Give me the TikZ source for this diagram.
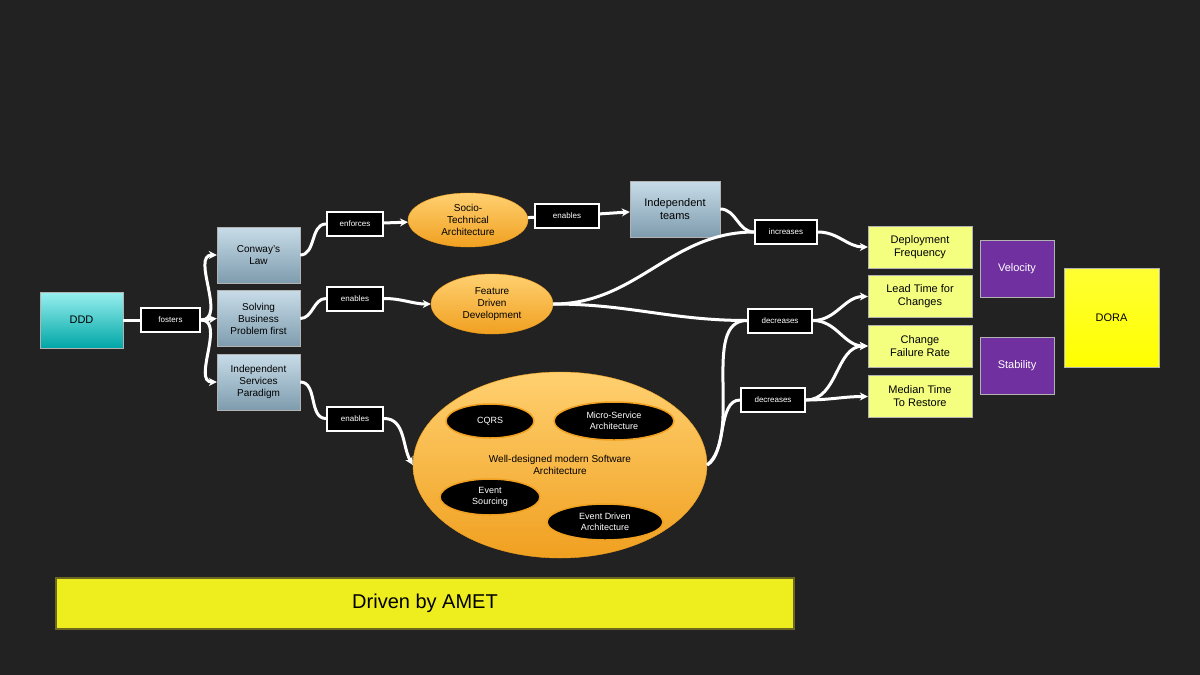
\documentclass[tikz,border=0pt]{standalone}
\usepackage{fontspec}
\setmainfont{Liberation Sans}
\usetikzlibrary{arrows.meta,shapes.geometric,shadings}
\definecolor{bg}{HTML}{222222}
\definecolor{stT}{HTML}{C8DCE8}
\definecolor{stB}{HTML}{7E9CAE}
\definecolor{orT}{HTML}{FFD070}
\definecolor{orB}{HTML}{F0A020}
\definecolor{yl}{HTML}{F4FF80}
\definecolor{pu}{HTML}{7030A0}
\begin{document}
\begin{tikzpicture}[x=1pt,y=-1pt,
 lbl/.style={draw=white,line width=2pt,fill=black,text=white,font=\fontsize{8}{9}\selectfont,minimum height=24pt,inner sep=1pt},
 blue/.style={draw=gray!60,top color=stT,bottom color=stB,font=\fontsize{10}{12}\selectfont,align=center,minimum width=83pt,minimum height=56pt,inner sep=1pt},
 org/.style={ellipse,draw=orB,top color=orT,bottom color=orB,font=\fontsize{10}{12}\selectfont,align=center,inner sep=0pt},
 blk/.style={ellipse,draw=orB,line width=1.5pt,fill=black,text=white,font=\fontsize{9}{11}\selectfont,align=center,inner sep=0pt},
 yel/.style={draw=gray!60,fill=yl,font=\fontsize{11}{13}\selectfont,align=center,minimum width=104pt,minimum height=42pt,inner sep=1pt},
 pur/.style={draw=gray!60,fill=pu,text=white,font=\fontsize{11}{13}\selectfont,minimum width=74pt,minimum height=57pt},
 con/.style={white,line width=3pt},
 arr/.style={con,-{Stealth[length=8pt,width=8pt]}}]
\fill[bg] (0,0) rectangle (1200,675);
\useasboundingbox (0,0) rectangle (1200,675);
\node[draw=gray!60,top color=teal!30!cyan!40!white,bottom color=teal!70!cyan,minimum width=83pt,minimum height=56pt,font=\fontsize{11}{13}\selectfont] (ddd) at (81.5,320) {DDD};
\node[lbl,minimum width=59pt] (fos) at (170.5,320) {fosters};
\node[blue] (con) at (258.5,255) {Conway's\\Law};
\node[blue] (sol) at (258.5,318.5) {Solving\\Business\\Problem first};
\node[blue] (isp) at (258.5,382) {Independent\\Services\\Paradigm};
\node[lbl,minimum width=56pt] (enf) at (355,224) {enforces};
\node[lbl,minimum width=56pt] (en1) at (355,298.5) {enables};
\node[lbl,minimum width=56pt] (en2) at (355,418.5) {enables};
\node[org,minimum width=120pt,minimum height=54pt] (soc) at (468,220) {Socio-\\Technical\\Architecture};
\node[org,minimum width=122pt,minimum height=60pt] (fdd) at (492,304) {Feature\\Driven\\Development};
\node[lbl,minimum width=64pt] (en3) at (567,216) {enables};
\node[blue,minimum width=90pt,font=\fontsize{11}{13}\selectfont] (it) at (675,209) {Independent\\teams};
\node[lbl,minimum width=62pt] (inc) at (786,232) {increases};
\node[lbl,minimum width=64pt] (dec1) at (780,320.5) {decreases};
\node[lbl,minimum width=64pt] (dec2) at (773,400) {decreases};
\node[org,minimum width=294pt,minimum height=186pt] (wd) at (560,465) {};
\node[font=\fontsize{10}{12}\selectfont,align=center] at (560,465) {Well-designed modern Software\\Architecture};
\node[blk,minimum width=88pt,minimum height=34pt] (cq) at (490,421) {CQRS};
\node[blk,minimum width=120pt,minimum height=38pt] (ms) at (614,421) {Micro-Service\\Architecture};
\node[blk,minimum width=100pt,minimum height=36pt] (es) at (490,497) {Event\\Sourcing};
\node[blk,minimum width=116pt,minimum height=36pt] (ed) at (605,522) {Event Driven\\Architecture};
\node[yel] (df) at (920,247) {Deployment\\Frequency};
\node[yel] (lt) at (920,296.5) {Lead Time for\\Changes};
\node[yel] (cf) at (920,346) {Change\\Failure Rate};
\node[yel] (mt) at (920,396.5) {Median Time\\To Restore};
\node[pur] (vel) at (1017,268.5) {Velocity};
\node[pur] (sta) at (1017,365.5) {Stability};
\node[draw=gray!60,top color=yellow!80!white,bottom color=yellow,minimum width=95pt,minimum height=99pt,font=\fontsize{11}{13}\selectfont] (dora) at (1111.5,317.5) {DORA};
\node[draw=olive!70!black,line width=2pt,fill=yellow!70!lime!90!white,minimum width=738pt,minimum height=51pt,font=\fontsize{20}{24}\selectfont] (amet) at (425,603.5) {Driven by AMET};
% connectors
\draw[con] (ddd) -- (fos);
\draw[arr] (fos.east) to[out=0,in=180] (con.west);
\draw[arr] (fos.east) -- (sol.west);
\draw[arr] (fos.east) to[out=0,in=180] (isp.west);
\draw[con] (con.east) to[out=0,in=180] (enf.west);
\draw[arr] (enf) -- (soc);
\draw[con] (soc) -- (en3);
\draw[arr] (en3) -- (it);
\draw[con] (it.east) to[out=0,in=180] (inc.west);
\draw[arr] (inc.east) to[out=0,in=180] (df.west);
\draw[con] (fdd.east) to[out=0,in=180] (inc.west);
\draw[con] (sol.east) to[out=0,in=180] (en1.west);
\draw[arr] (en1.east) to[out=0,in=180] (fdd.west);
\draw[con] (isp.east) to[out=0,in=180] (en2.west);
\draw[arr] (en2.east) to[out=0,in=120] (wd.west);
\draw[con] (fdd.east) to[out=0,in=180] (dec1.west);
\draw[con] (wd.east) to[out=40,in=180,looseness=0.8] (dec1.west);
\draw[con] (wd.east) to[out=30,in=180,looseness=0.8] (dec2.west);
\draw[arr] (dec1.east) to[out=0,in=180] (lt.west);
\draw[arr] (dec1.east) to[out=0,in=180] (cf.west);
\draw[arr] (dec2.east) to[out=0,in=180] (cf.west);
\draw[arr] (dec2.east) to[out=0,in=180] (mt.west);
\end{tikzpicture}
\end{document}
